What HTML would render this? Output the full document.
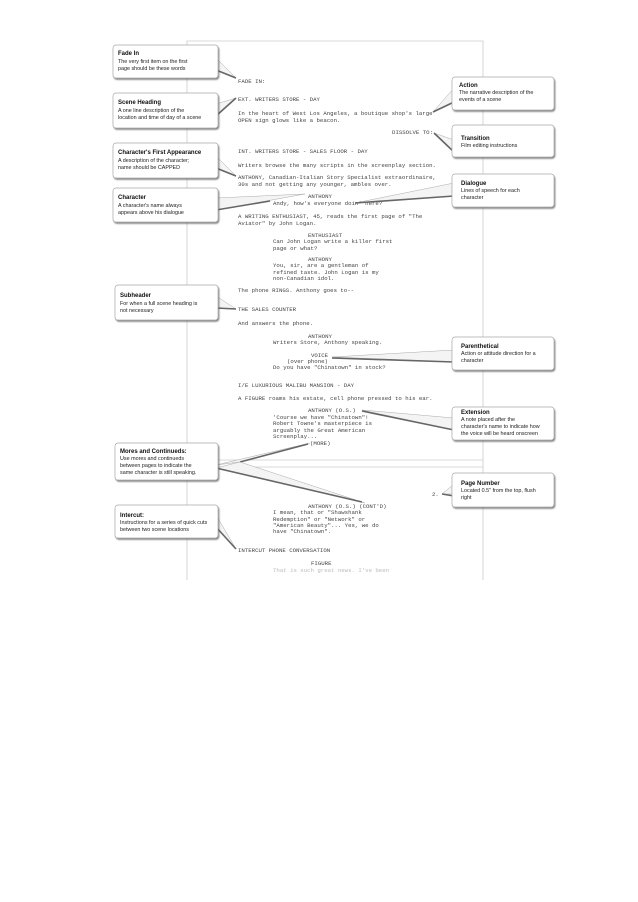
<!DOCTYPE html>
<html><head><meta charset="utf-8"><style>
html,body{margin:0;padding:0;background:#fff;}
svg{display:block}
.m{font-family:"Liberation Mono",monospace;font-size:5.7px;fill:#444;}
.t{font-family:"Liberation Sans",sans-serif;font-size:6px;font-weight:bold;fill:#111;}
.b{font-family:"Liberation Sans",sans-serif;font-size:5.4px;fill:#222;}
.box{fill:#fff;stroke:#aaa;stroke-width:0.7;filter:url(#sh);}
.w{fill:#f4f4f4;stroke:#aaa;stroke-width:0.5;}
.e{stroke:#666;stroke-width:1.6;fill:none;}
</style></head><body>
<svg width="638" height="902" viewBox="0 0 638 902" xmlns="http://www.w3.org/2000/svg">
<defs><filter id="sh" x="-10%" y="-10%" width="125%" height="140%"><feDropShadow dx="1" dy="1.5" stdDeviation="0.8" flood-color="#555" flood-opacity="0.7"/></filter></defs>
<!-- page -->
<polyline points="187,580 187,41 483,41 483,580" fill="none" stroke="#ccc" stroke-width="0.8"/>
<line x1="187" y1="460" x2="483" y2="460" stroke="#ccc" stroke-width="0.8"/>
<line x1="187" y1="467" x2="483" y2="467" stroke="#ccc" stroke-width="0.8"/>
<g class="m">
<text x="238" y="83">FADE IN:</text>
<text x="238" y="101">EXT. WRITERS STORE - DAY</text>
<text x="238" y="115">In the heart of West Los Angeles, a boutique shop's large</text>
<text x="238" y="122">OPEN sign glows like a beacon.</text>
<text x="433" y="134" text-anchor="end">DISSOLVE TO:</text>
<text x="238" y="153">INT. WRITERS STORE - SALES FLOOR - DAY</text>
<text x="238" y="167">Writers browse the many scripts in the screenplay section.</text>
<text x="238" y="179">ANTHONY, Canadian-Italian Story Specialist extraordinaire,</text>
<text x="238" y="186">30s and not getting any younger, ambles over.</text>
<text x="308" y="198">ANTHONY</text>
<text x="273" y="205">Andy, how's everyone doin' here?</text>
<text x="238" y="218">A WRITING ENTHUSIAST, 45, reads the first page of "The</text>
<text x="238" y="225">Aviator" by John Logan.</text>
<text x="308" y="237">ENTHUSIAST</text>
<text x="273" y="243">Can John Logan write a killer first</text>
<text x="273" y="250">page or what?</text>
<text x="308" y="261">ANTHONY</text>
<text x="273" y="267">You, sir, are a gentleman of</text>
<text x="273" y="274">refined taste.  John Logan is my</text>
<text x="273" y="280">non-Canadian idol.</text>
<text x="238" y="292">The phone RINGS.  Anthony goes to--</text>
<text x="238" y="311">THE SALES COUNTER</text>
<text x="238" y="325">And answers the phone.</text>
<text x="308" y="338">ANTHONY</text>
<text x="273" y="344">Writers Store, Anthony speaking.</text>
<text x="311" y="357">VOICE</text>
<text x="287" y="363">(over phone)</text>
<text x="273" y="369">Do you have "Chinatown" in stock?</text>
<text x="238" y="387">I/E LUXURIOUS MALIBU MANSION - DAY</text>
<text x="238" y="400">A FIGURE roams his estate, cell phone pressed to his ear.</text>
<text x="308" y="412">ANTHONY (O.S.)</text>
<text x="273" y="419">'Course we have "Chinatown"!</text>
<text x="273" y="425">Robert Towne's masterpiece is</text>
<text x="273" y="432">arguably the Great American</text>
<text x="273" y="438">Screenplay...</text>
<text x="310" y="445">(MORE)</text>
<text x="432" y="496">2.</text>
<text x="308" y="508">ANTHONY (O.S.) (CONT'D)</text>
<text x="273" y="514">I mean, that or "Shawshank</text>
<text x="273" y="521">Redemption" or "Network" or</text>
<text x="273" y="527">"American Beauty"...  Yes, we do</text>
<text x="273" y="533">have "Chinatown".</text>
<text x="238" y="552">INTERCUT PHONE CONVERSATION</text>
<text x="311" y="565">FIGURE</text>
<text x="273" y="572" style="fill:#bbb">That is such great news.  I've been</text>
</g>
<!-- wedges -->
<g>
<polygon class="w" points="216,58 236,78 216,70"/><line class="e" x1="216" y1="70" x2="236" y2="78"/>
<polygon class="w" points="216,104 236,98 216,116"/><line class="e" x1="216" y1="116" x2="236" y2="98"/>
<polygon class="w" points="454,88 433,112 454,102"/><line class="e" x1="454" y1="102" x2="433" y2="112"/>
<polygon class="w" points="454,140 434,133 454,152"/><line class="e" x1="454" y1="152" x2="434" y2="133"/>
<polygon class="w" points="216,156 236,176 216,168"/><line class="e" x1="216" y1="168" x2="236" y2="176"/>
<polygon class="w" points="216,198 305,194 216,210"/><line class="e" x1="216" y1="210" x2="270" y2="201"/>
<polygon class="w" points="454,183 355,203 454,196"/><line class="e" x1="454" y1="196" x2="355" y2="203"/>
<polygon class="w" points="216,296 236,309 216,308"/><line class="e" x1="216" y1="308" x2="236" y2="309"/>
<polygon class="w" points="454,350 332,357 454,362"/><line class="e" x1="454" y1="362" x2="332" y2="358"/>
<polygon class="w" points="454,418 362,410 454,430"/><line class="e" x1="454" y1="430" x2="362" y2="411"/>
<polygon class="w" points="240,462 310,443 216,465"/><line class="e" x1="240" y1="462" x2="308" y2="444"/>
<polygon class="w" points="240,462 365,503 216,468"/><line class="e" x1="216" y1="468" x2="362" y2="502"/>
<polygon class="w" points="454,484 442,494 454,494"/><line class="e" x1="454" y1="496" x2="442" y2="494"/>
<polygon class="w" points="216,515 236,549 216,527"/><line class="e" x1="216" y1="527" x2="236" y2="549"/>
</g>
<!-- boxes left -->
<rect class="box" x="113" y="45" width="105" height="33" rx="3"/>
<text class="t" x="118" y="55">Fade In</text><text class="b" x="118" y="63">The very first item on the first</text><text class="b" x="118" y="70">page should be these words</text>
<rect class="box" x="113" y="93" width="105" height="35" rx="3"/>
<text class="t" x="118" y="104">Scene Heading</text><text class="b" x="118" y="112">A one line description of the</text><text class="b" x="118" y="119">location and time of day of a scene</text>
<rect class="box" x="113" y="143" width="105" height="35" rx="3"/>
<text class="t" x="118" y="154">Character's First Appearance</text><text class="b" x="118" y="162">A description of the character;</text><text class="b" x="118" y="169">name should be CAPPED</text>
<rect class="box" x="113" y="188" width="105" height="34" rx="3"/>
<text class="t" x="118" y="199">Character</text><text class="b" x="118" y="207">A character's name always</text><text class="b" x="118" y="214">appears above his dialogue</text>
<rect class="box" x="115" y="285" width="103" height="35" rx="3"/>
<text class="t" x="120" y="297">Subheader</text><text class="b" x="120" y="305">For when a full scene heading is</text><text class="b" x="120" y="312">not necessary</text>
<rect class="box" x="115" y="443" width="103" height="37" rx="3"/>
<text class="t" x="120" y="453">Mores and Continueds:</text><text class="b" x="120" y="460">Use mores and continueds</text><text class="b" x="120" y="467">between pages to indicate the</text><text class="b" x="120" y="474">same character is still speaking.</text>
<rect class="box" x="115" y="505" width="103" height="33" rx="3"/>
<text class="t" x="120" y="517">Intercut:</text><text class="b" x="120" y="524">Instructions for a series of quick cuts</text><text class="b" x="120" y="531">between two scene locations</text>
<!-- boxes right -->
<rect class="box" x="452" y="77" width="102" height="33" rx="3"/>
<text class="t" x="459" y="87">Action</text><text class="b" x="459" y="94">The narrative description of the</text><text class="b" x="459" y="101">events of a scene</text>
<rect class="box" x="452" y="125" width="102" height="32" rx="3"/>
<text class="t" x="461" y="140">Transition</text><text class="b" x="461" y="147">Film editing instructions</text>
<rect class="box" x="452" y="174" width="102" height="33" rx="3"/>
<text class="t" x="461" y="185">Dialogue</text><text class="b" x="461" y="192">Lines of speech for each</text><text class="b" x="461" y="199">character</text>
<rect class="box" x="452" y="337" width="102" height="33" rx="3"/>
<text class="t" x="461" y="348">Parenthetical</text><text class="b" x="461" y="355">Action or attitude direction for a</text><text class="b" x="461" y="362">character</text>
<rect class="box" x="452" y="407" width="102" height="33" rx="3"/>
<text class="t" x="461" y="414">Extension</text><text class="b" x="461" y="421">A note placed after the</text><text class="b" x="461" y="428">character's name to indicate how</text><text class="b" x="461" y="435">the voice will be heard onscreen</text>
<rect class="box" x="452" y="473" width="102" height="34" rx="3"/>
<text class="t" x="461" y="485">Page Number</text><text class="b" x="461" y="492">Located 0.5" from the top, flush</text><text class="b" x="461" y="499">right</text>
</svg>
</body></html>
